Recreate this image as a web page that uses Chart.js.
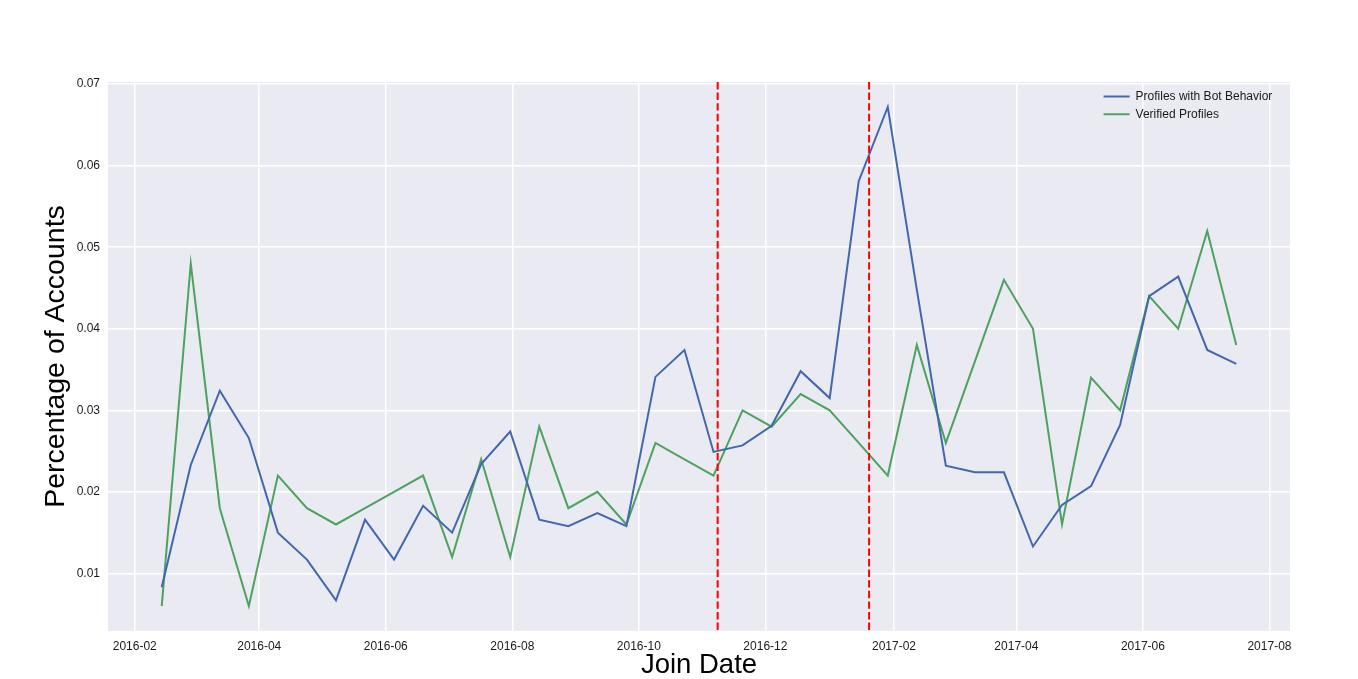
<!DOCTYPE html>
<html lang="en">

<head>
  <title>Percentage of Accounts by Join Date</title>
  <meta charset="UTF-8">
  <script src="https://cdn.jsdelivr.net/npm/chart.js@4.4.1/dist/chart.umd.min.js"></script>
  <style>
    body { margin: 0; background: #fff; }
  </style>
</head>

<body>
  <canvas id="myChart" width="1358" height="679"></canvas>
  <script>
    // two-week bins (week ending Sunday)
    const joinDates = [
      "2016-02-14", "2016-02-28", "2016-03-13", "2016-03-27", "2016-04-10", "2016-04-24",
      "2016-05-08", "2016-05-22", "2016-06-05", "2016-06-19", "2016-07-03", "2016-07-17",
      "2016-07-31", "2016-08-14", "2016-08-28", "2016-09-11", "2016-09-25", "2016-10-09",
      "2016-10-23", "2016-11-06", "2016-11-20", "2016-12-04", "2016-12-18", "2017-01-01",
      "2017-01-15", "2017-01-29", "2017-02-12", "2017-02-26", "2017-03-12", "2017-03-26",
      "2017-04-09", "2017-04-23", "2017-05-07", "2017-05-21", "2017-06-04", "2017-06-18",
      "2017-07-02", "2017-07-16"
    ];
    const botProfiles = [
      0.0083, 0.0233, 0.0324, 0.0266, 0.0150, 0.0117, 0.0067, 0.0166, 0.0117, 0.0183,
      0.0150, 0.0234, 0.0274, 0.0166, 0.0158, 0.0174, 0.0158, 0.0341, 0.0374, 0.0249,
      0.0257, 0.0281, 0.0348, 0.0315, 0.0581, 0.0672, 0.0448, 0.0232, 0.0224, 0.0224,
      0.0133, 0.0184, 0.0207, 0.0282, 0.0440, 0.0464, 0.0374, 0.0357
    ];
    const verifiedProfiles = [
      0.006, 0.048, 0.018, 0.006, 0.022, 0.018, 0.016, 0.018, 0.020, 0.022,
      0.012, 0.024, 0.012, 0.028, 0.018, 0.020, 0.016, 0.026, 0.024, 0.022,
      0.030, 0.028, 0.032, 0.030, 0.026, 0.022, 0.038, 0.026, 0.036, 0.046,
      0.040, 0.016, 0.034, 0.030, 0.044, 0.040, 0.052, 0.038
    ];
    const xTickDates = [
      "2016-02-01", "2016-04-01", "2016-06-01", "2016-08-01", "2016-10-01",
      "2016-12-01", "2017-02-01", "2017-04-01", "2017-06-01", "2017-08-01"
    ];
    const yTicks = [0.01, 0.02, 0.03, 0.04, 0.05, 0.06, 0.07];
    // election day and inauguration
    const eventDates = ["2016-11-08", "2017-01-20"];

    const toTime = d => Date.parse(d);
    const pad2 = n => (n < 10 ? '0' : '') + n;

    // matplotlib style 5% margins
    const xs = joinDates.map(toTime);
    const allY = botProfiles.concat(verifiedProfiles);
    const xMin = Math.min(...xs), xMax = Math.max(...xs);
    const yMin = Math.min(...allY), yMax = Math.max(...allY);
    const xm = (xMax - xMin) * 0.05, ym = (yMax - yMin) * 0.05;

    const tickColor = '#1a1a1a';
    Chart.defaults.font.family = "'Liberation Sans', Arial, sans-serif";

    const darkgrid = {
      id: 'darkgrid',
      beforeDraw(chart) {
        const { ctx, chartArea: a } = chart;
        ctx.save();
        ctx.fillStyle = '#EAEAF2';
        ctx.fillRect(a.left, a.top, a.right - a.left, a.bottom - a.top);
        ctx.restore();
      },
      afterLayout(chart) {
        // move the legend into the upper right corner of the axes
        const lg = chart.legend, a = chart.chartArea;
        const w = lg.width, h = lg.height;
        lg.left = a.right - 192;
        lg.top = a.top + 3;
        lg.right = lg.left + w;
        lg.bottom = lg.top + h;
      },
      afterDatasetsDraw(chart) {
        const { ctx, chartArea: a, scales } = chart;
        ctx.save();
        ctx.strokeStyle = '#FF0000';
        ctx.lineWidth = 2;
        ctx.setLineDash([7.4, 3.2]);
        eventDates.forEach(d => {
          const x = scales.x.getPixelForValue(toTime(d));
          ctx.beginPath();
          ctx.moveTo(x, a.top);
          ctx.lineTo(x, a.bottom);
          ctx.stroke();
        });
        ctx.restore();
      }
    };

    new Chart("myChart", {
      type: "line",
      data: {
        datasets: [{
          label: 'Profiles with Bot Behavior',
          data: joinDates.map((d, i) => ({ x: toTime(d), y: botProfiles[i] })),
          borderColor: '#4268AB',
          backgroundColor: '#4268AB',
          borderWidth: 2,
          pointRadius: 0,
          tension: 0,
          fill: false
        }, {
          label: 'Verified Profiles',
          data: joinDates.map((d, i) => ({ x: toTime(d), y: verifiedProfiles[i] })),
          borderColor: '#4EA25F',
          backgroundColor: '#4EA25F',
          borderWidth: 2,
          pointRadius: 0,
          tension: 0,
          fill: false
        }]
      },
      options: {
        responsive: false,
        animation: false,
        layout: { padding: { left: 0, right: 68, top: 82, bottom: 0 } },
        plugins: {
          legend: {
            position: 'chartArea',
            align: 'start',
            labels: {
              usePointStyle: true,
              pointStyle: 'line',
              pointStyleWidth: 26,
              padding: 5.6,
              color: tickColor,
              font: { size: 12 }
            }
          },
          tooltip: { enabled: false }
        },
        scales: {
          x: {
            type: 'linear',
            min: xMin - xm,
            max: xMax + xm,
            border: { display: false },
            grid: { color: '#FFFFFF', lineWidth: 1.5, drawTicks: false },
            ticks: {
              color: tickColor,
              font: { size: 12 },
              padding: 8,
              maxRotation: 0,
              autoSkip: false,
              callback: function (value) {
                const d = new Date(value);
                return d.getUTCFullYear() + '-' + pad2(d.getUTCMonth() + 1);
              }
            },
            afterBuildTicks: function (scale) {
              scale.ticks = xTickDates.map(d => ({ value: toTime(d) }));
            },
            afterFit: function (scale) { scale.height = 48; },
            title: {
              display: true,
              text: 'Join Date',
              color: '#000000',
              font: { size: 27.5, lineHeight: 1 },
              padding: { top: 0, bottom: 0 }
            }
          },
          y: {
            min: yMin - ym,
            max: yMax + ym,
            border: { display: false },
            grid: { color: '#FFFFFF', lineWidth: 1.5, drawTicks: false },
            ticks: {
              color: tickColor,
              font: { size: 12 },
              padding: 8,
              callback: function (value) { return value.toFixed(2); }
            },
            afterBuildTicks: function (scale) {
              scale.ticks = yTicks.map(v => ({ value: v }));
            },
            afterFit: function (scale) { scale.width = 108; },
            title: {
              display: true,
              text: 'Percentage of Accounts',
              color: '#000000',
              font: { size: 28.5, lineHeight: 1 },
              padding: { top: 42, bottom: 0 }
            }
          }
        }
      },
      plugins: [darkgrid]
    });
  </script>
</body>

</html>
